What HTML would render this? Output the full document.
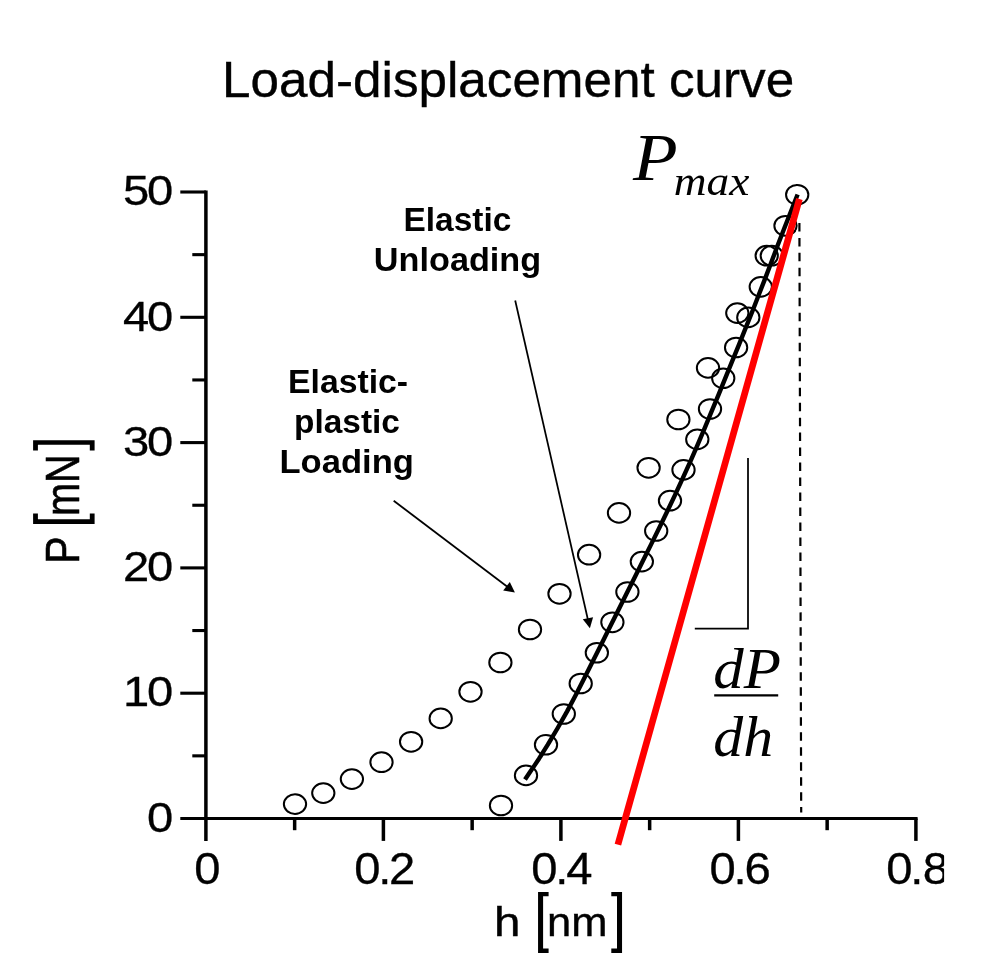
<!DOCTYPE html>
<html><head><meta charset="utf-8"><title>Load-displacement curve</title>
<style>
html,body{margin:0;padding:0;background:#fff;}
body{width:994px;height:980px;overflow:hidden;}
svg{display:block;}
text{font-family:"Liberation Sans",sans-serif;fill:#000;}
.ser{font-family:"Liberation Serif",serif;font-style:italic;}
.b{font-weight:bold;}
</style></head><body>
<svg width="994" height="980" viewBox="0 0 994 980">
<rect width="994" height="980" fill="#fff"/>
<g stroke="#000" fill="none" stroke-linecap="butt">
<line x1="205.9" y1="190.45" x2="205.9" y2="840.9" stroke-width="3.5"/>
<line x1="180.3" y1="818.5" x2="917.6" y2="818.5" stroke-width="3.1"/>
<line x1="192.3" y1="755.85" x2="205.9" y2="755.85" stroke-width="3.1"/>
<line x1="180.3" y1="693.20" x2="205.9" y2="693.20" stroke-width="3.1"/>
<line x1="192.3" y1="630.55" x2="205.9" y2="630.55" stroke-width="3.1"/>
<line x1="180.3" y1="567.90" x2="205.9" y2="567.90" stroke-width="3.1"/>
<line x1="192.3" y1="505.25" x2="205.9" y2="505.25" stroke-width="3.1"/>
<line x1="180.3" y1="442.60" x2="205.9" y2="442.60" stroke-width="3.1"/>
<line x1="192.3" y1="379.95" x2="205.9" y2="379.95" stroke-width="3.1"/>
<line x1="180.3" y1="317.30" x2="205.9" y2="317.30" stroke-width="3.1"/>
<line x1="192.3" y1="254.65" x2="205.9" y2="254.65" stroke-width="3.1"/>
<line x1="180.3" y1="192.00" x2="205.9" y2="192.00" stroke-width="3.1"/>
<line x1="294.65" y1="818.5" x2="294.65" y2="830.2" stroke-width="3.5"/>
<line x1="383.40" y1="818.5" x2="383.40" y2="840.9" stroke-width="3.5"/>
<line x1="472.15" y1="818.5" x2="472.15" y2="830.2" stroke-width="3.5"/>
<line x1="560.90" y1="818.5" x2="560.90" y2="840.9" stroke-width="3.5"/>
<line x1="649.65" y1="818.5" x2="649.65" y2="830.2" stroke-width="3.5"/>
<line x1="738.40" y1="818.5" x2="738.40" y2="840.9" stroke-width="3.5"/>
<line x1="827.15" y1="818.5" x2="827.15" y2="830.2" stroke-width="3.5"/>
<line x1="915.90" y1="818.5" x2="915.90" y2="840.9" stroke-width="3.5"/>
</g>
<g opacity="0.999">
<text transform="translate(222.10,96.80) scale(1.0241,1.015)" font-size="50" stroke="#000" stroke-width="0.4">Load-displacement curve</text>
<text transform="translate(123.01,205.20) scale(1.1100,1.01)" font-size="42.5" style="letter-spacing:-2.0px" stroke="#000" stroke-width="0.3">50</text>
<text transform="translate(123.01,330.60) scale(1.1100,1.01)" font-size="42.5" style="letter-spacing:-2.0px" stroke="#000" stroke-width="0.3">40</text>
<text transform="translate(123.01,455.90) scale(1.1100,1.01)" font-size="42.5" style="letter-spacing:-2.0px" stroke="#000" stroke-width="0.3">30</text>
<text transform="translate(123.01,581.20) scale(1.1100,1.01)" font-size="42.5" style="letter-spacing:-2.0px" stroke="#000" stroke-width="0.3">20</text>
<text transform="translate(123.01,706.40) scale(1.1100,1.01)" font-size="42.5" style="letter-spacing:-2.0px" stroke="#000" stroke-width="0.3">10</text>
<text transform="translate(146.88,831.70) scale(1.1100,1.01)" font-size="42.5" style="letter-spacing:-2.0px" stroke="#000" stroke-width="0.3">0</text>
<text transform="translate(194.22,884.45) scale(1.1100,1.03)" font-size="42.5" style="letter-spacing:-2.0px" stroke="#000" stroke-width="0.3">0</text>
<text transform="translate(354.21,884.45) scale(1.1100,1.03)" font-size="42.5" style="letter-spacing:-2.0px" stroke="#000" stroke-width="0.3">0.2</text>
<text transform="translate(531.30,884.45) scale(1.1100,1.03)" font-size="42.5" style="letter-spacing:-2.0px" stroke="#000" stroke-width="0.3">0.4</text>
<text transform="translate(709.48,884.45) scale(1.1100,1.03)" font-size="42.5" style="letter-spacing:-2.0px" stroke="#000" stroke-width="0.3">0.6</text>
<text transform="translate(886.26,884.45) scale(1.1100,1.03)" font-size="42.5" style="letter-spacing:-2.0px" stroke="#000" stroke-width="0.3">0.<tspan dx="1.5">8</tspan></text>
<text class="b" transform="translate(403.48,230.60) scale(1.0619,1.03)" font-size="31.5">Elastic</text>
<text class="b" transform="translate(373.83,271.20) scale(1.0871,1.03)" font-size="31.5">Unloading</text>
<text class="b" transform="translate(288.06,392.50) scale(1.0713,1.03)" font-size="31.5">Elastic-</text>
<text class="b" transform="translate(294.08,432.70) scale(1.0605,1.03)" font-size="31.5">plastic</text>
<text class="b" transform="translate(279.50,473.30) scale(1.0977,1.03)" font-size="31.5">Loading</text>
<text class="ser" transform="translate(632.97,179.50) scale(1.0911,1)" font-size="67">P</text>
<text class="ser" transform="translate(673.78,194.50) scale(1.0813,1)" font-size="42">max</text>
<text class="ser" transform="translate(713.24,688.00) scale(1.0601,1)" font-size="57.5">dP</text>
<text class="ser" transform="translate(713.28,755.60) scale(1.0404,1)" font-size="57.5">dh</text>
<text transform="translate(494.01,935.80) scale(1.1600,1)" font-size="41" stroke="#000" stroke-width="0.4">h</text>
<text transform="translate(546.98,935.80) scale(1.0621,1)" font-size="41" stroke="#000" stroke-width="0.4">nm</text>
<text transform="translate(79.00,563.67) rotate(-90) scale(0.9909,1.18)" font-size="41.5" stroke="#000" stroke-width="0.5">P</text>
<text transform="translate(79.00,516.03) rotate(-90) scale(0.9556,1.18)" font-size="41.5" stroke="#000" stroke-width="0.5">mN</text>
</g>
<rect x="944.1" y="845" width="50" height="50" fill="#fff"/>
<line x1="799.4" y1="222.9" x2="801.2" y2="812.4" stroke="#000" stroke-width="2.2" stroke-dasharray="8.5 6.48"/>
<g stroke="#000" stroke-width="1.75" fill="none">
<polyline points="748,458 748,628.7 694.8,628.7"/>
<line x1="515.2" y1="300.5" x2="588" y2="620"/>
<line x1="393.7" y1="500.8" x2="508" y2="587.2"/>
</g>
<polygon points="589.9,628.3 582.8,619.2 593.1,617.3" fill="#000"/>
<polygon points="514.9,592.4 509.8,581.9 503.2,590.4" fill="#000"/>
<line x1="714.2" y1="695.4" x2="778.2" y2="695.4" stroke="#000" stroke-width="2.3"/>
<g stroke="#000" stroke-width="2" fill="none">
<ellipse cx="295.0" cy="804.1" rx="11.15" ry="9.85"/>
<ellipse cx="323.3" cy="793.1" rx="11.15" ry="9.85"/>
<ellipse cx="351.9" cy="779.1" rx="11.15" ry="9.85"/>
<ellipse cx="381.5" cy="762.2" rx="11.15" ry="9.85"/>
<ellipse cx="411.1" cy="741.8" rx="11.15" ry="9.85"/>
<ellipse cx="440.7" cy="718.4" rx="11.15" ry="9.85"/>
<ellipse cx="470.5" cy="691.8" rx="11.15" ry="9.85"/>
<ellipse cx="500.4" cy="662.5" rx="11.15" ry="9.85"/>
<ellipse cx="530.0" cy="629.5" rx="11.15" ry="9.85"/>
<ellipse cx="559.5" cy="593.8" rx="11.15" ry="9.85"/>
<ellipse cx="589.1" cy="554.7" rx="11.15" ry="9.85"/>
<ellipse cx="619.0" cy="512.9" rx="11.15" ry="9.85"/>
<ellipse cx="648.6" cy="467.8" rx="11.15" ry="9.85"/>
<ellipse cx="678.4" cy="419.5" rx="11.15" ry="9.85"/>
<ellipse cx="708.0" cy="367.9" rx="11.15" ry="9.85"/>
<ellipse cx="737.3" cy="313.1" rx="11.15" ry="9.85"/>
<ellipse cx="766.7" cy="255.7" rx="11.15" ry="9.85"/>
<ellipse cx="797.2" cy="194.8" rx="11.15" ry="9.85"/>
<ellipse cx="785.5" cy="225.8" rx="11.15" ry="9.85"/>
<ellipse cx="771.8" cy="255.7" rx="11.15" ry="9.85"/>
<ellipse cx="760.75" cy="286.85" rx="11.15" ry="9.85"/>
<ellipse cx="748.3" cy="317.4" rx="11.15" ry="9.85"/>
<ellipse cx="736.1" cy="347.5" rx="11.15" ry="9.85"/>
<ellipse cx="723.25" cy="378.25" rx="11.15" ry="9.85"/>
<ellipse cx="710.0" cy="409.0" rx="11.15" ry="9.85"/>
<ellipse cx="697.3" cy="439.4" rx="11.15" ry="9.85"/>
<ellipse cx="683.5" cy="469.9" rx="11.15" ry="9.85"/>
<ellipse cx="670.0" cy="500.7" rx="11.15" ry="9.85"/>
<ellipse cx="656.2" cy="531.0" rx="11.15" ry="9.85"/>
<ellipse cx="641.85" cy="561.6" rx="11.15" ry="9.85"/>
<ellipse cx="627.4" cy="592.0" rx="11.15" ry="9.85"/>
<ellipse cx="612.4" cy="622.3" rx="11.15" ry="9.85"/>
<ellipse cx="596.85" cy="652.75" rx="11.15" ry="9.85"/>
<ellipse cx="580.7" cy="683.5" rx="11.15" ry="9.85"/>
<ellipse cx="563.8" cy="714.0" rx="11.15" ry="9.85"/>
<ellipse cx="546.0" cy="744.75" rx="11.15" ry="9.85"/>
<ellipse cx="526.0" cy="775.4" rx="11.15" ry="9.85"/>
<ellipse cx="501.0" cy="805.5" rx="11.15" ry="9.85"/>
</g>
<polyline points="797.6,194.5 791.0,211.2 784.5,227.8 778.0,244.5 771.7,261.2 765.4,277.9 758.9,294.5 752.4,311.2 745.7,327.9 739.0,344.6 732.2,361.2 725.4,377.9 718.6,394.6 711.7,411.2 704.8,427.9 697.7,444.6 690.4,461.3 682.9,477.9 675.2,494.6 667.3,511.3 659.2,528.0 651.0,544.6 642.7,561.3 634.4,578.0 626.1,594.6 617.8,611.3 609.4,628.0 601.1,644.7 592.8,661.3 584.4,678.0 575.9,694.7 567.1,711.4 557.7,728.0 547.8,744.7 543.4,751.7 539.0,758.7 534.4,765.6 529.7,772.6 525.0,779.6" stroke="#000" stroke-width="4.4" fill="none" stroke-linecap="butt" stroke-linejoin="round"/>
<line x1="799.4" y1="199" x2="617.9" y2="844.6" stroke="#ff0000" stroke-width="6.7"/>
<g fill="#000">
<polygon points="538.05,892 548.6,892 548.6,896.3 543.1,896.3 543.1,948.6 548.6,948.6 548.6,952.9 538.05,952.9"/>
<polygon points="622.05,892 611.3,892 611.3,896.3 617,896.3 617,948.6 611.3,948.6 611.3,952.9 622.05,952.9"/>
<polygon points="33.1,440.3 94.6,440.3 94.6,450.5 89.8,450.5 89.8,444.8 37.9,444.8 37.9,450.5 33.1,450.5"/>
<polygon points="33.1,523.9 94.6,523.9 94.6,513.5 89.8,513.5 89.8,519.3 37.9,519.3 37.9,513.5 33.1,513.5"/>
</g>
</svg></body></html>
